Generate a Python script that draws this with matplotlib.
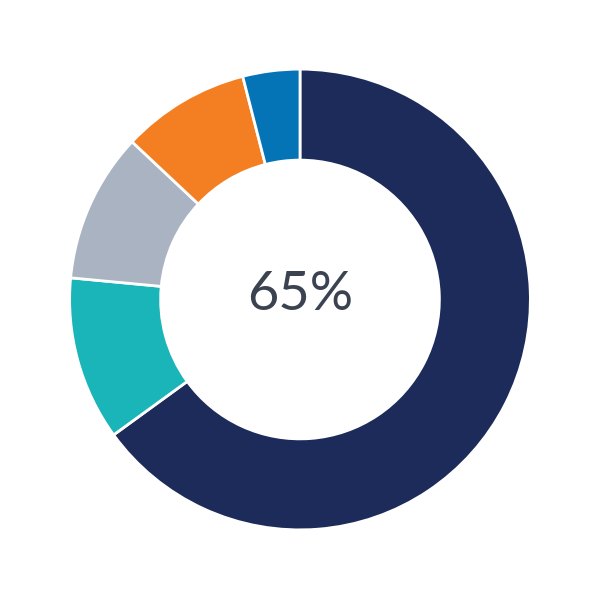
import matplotlib
matplotlib.use("Agg")
import matplotlib.pyplot as plt

# slice shares in percent, clockwise from 12 o'clock
labels = ["Navy", "Teal", "Gray", "Orange", "Blue"]
shares = [65, 11.5, 10.5, 9, 4]
colors = ["#1c2b5a", "#1ab5b8", "#a9b3c1", "#f37f22", "#0474b6"]
center_label = "65%"

fig = plt.figure(figsize=(6, 5.99), dpi=100)
ax = fig.add_axes([0, 0, 1, 1])

ax.pie(shares, colors=colors, startangle=90, counterclock=False,
       radius=1.0,
       wedgeprops=dict(width=0.395, edgecolor="white", linewidth=2))

ax.text(0, 0.02, center_label, ha="center", va="center",
        fontsize=39, family=["Lato", "DejaVu Sans"], fontweight="normal",
        color="#3c4350")

ax.set_xlim(-1.3, 1.3)
ax.set_ylim(-1.3, 1.3)
ax.set_aspect("equal")
ax.axis("off")

fig.savefig("out.png", dpi=100, facecolor="white")
